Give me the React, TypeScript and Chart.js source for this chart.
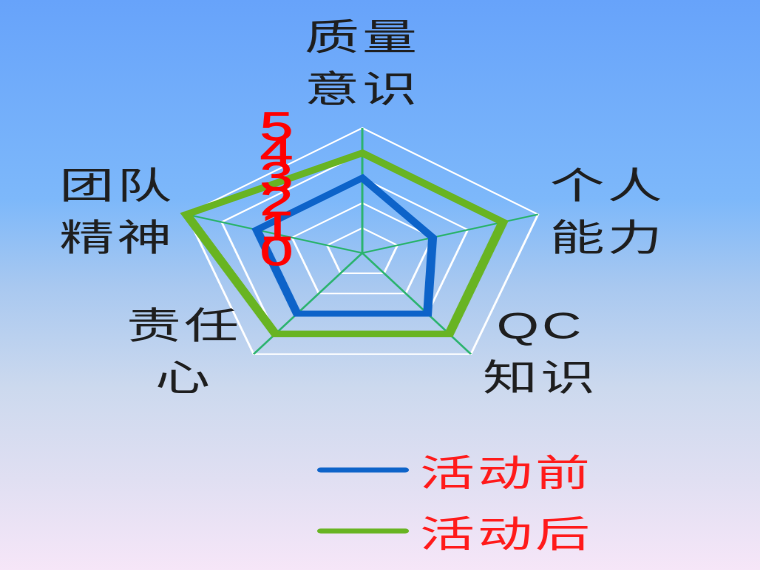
import { useEffect, useRef } from 'react';
import { Chart, registerables } from 'chart.js';

Chart.register(...registerables);

// axis categories, split over two lines as in the slide
const categories = [
  ['质量', '意识'],
  ['个人', '能力'],
  ['QC', '知识'],
  ['责任', '心'],
  ['团队', '精神'],
];
const seriesNames = ['活动前', '活动后'];
const beforeValues = [3, 2, 3, 3, 3];
const afterValues = [4, 4, 4, 4, 5];
const tickValues = [0, 1, 2, 3, 4, 5];

const colors = {
  before: '#0d63c9',
  after: '#68b422',
  spoke: '#2bb36e',
  grid: '#ffffff',
  tick: '#ff0000',
  label: '#1e1e1e',
  legendText: '#ff1a1a',
};

// the original picture is stretched sideways, so the canvas is drawn narrow and widened by css
const CANVAS_W = 514;
const CANVAS_H = 570;

const radarText = {
  id: 'radarText',
  afterDatasetsDraw(chart: any) {
    const scale = chart.scales.r;
    const ctx = chart.ctx as CanvasRenderingContext2D;
    ctx.save();

    // axis labels
    ctx.font = '37px "Liberation Sans", "Noto Sans CJK SC", sans-serif';
    (ctx as any).letterSpacing = '2px';
    ctx.fillStyle = colors.label;
    ctx.textAlign = 'center';
    ctx.textBaseline = 'middle';
    const lineH = 52;
    const gap = 8;
    (chart.data.labels as string[][]).forEach((lines, i) => {
      const p = scale.getPointPosition(i, scale.drawingArea);
      const blockW = Math.max(...lines.map((l) => ctx.measureText(l).width));
      const blockH = lineH * lines.length;
      let cx = p.x;
      let top = p.y - blockH / 2;
      if (Math.abs(p.x - scale.xCenter) < 1) {
        top = p.y - 10 - blockH;
      } else if (p.x > scale.xCenter) {
        cx = p.x + gap + blockW / 2;
      } else {
        cx = p.x - gap - blockW / 2;
      }
      lines.forEach((line, j) => {
        ctx.fillText(line, cx, top + lineH * (j + 0.5));
      });
    });

    // scale numbers, drawn over the series lines
    (ctx as any).letterSpacing = '0px';
    ctx.font = '40px "Liberation Sans", Arial, sans-serif';
    ctx.fillStyle = colors.tick;
    ctx.strokeStyle = colors.tick;
    ctx.lineWidth = 0.8;
    tickValues.forEach((v) => {
      const d = scale.getDistanceFromCenterForValue(v);
      ctx.fillText(String(v), scale.xCenter - 58, scale.yCenter - d + 1);
      ctx.strokeText(String(v), scale.xCenter - 58, scale.yCenter - d + 1);
    });

    ctx.restore();
  },
};

const lineLegend = {
  id: 'lineLegend',
  afterDraw(chart: any) {
    const ctx = chart.ctx as CanvasRenderingContext2D;
    ctx.save();
    ctx.font = '37px "Noto Sans CJK SC", sans-serif';
    (ctx as any).letterSpacing = '2px';
    ctx.textAlign = 'left';
    ctx.textBaseline = 'middle';
    chart.data.datasets.forEach((ds: any, i: number) => {
      const y = 470 + i * 61;
      ctx.strokeStyle = ds.borderColor;
      ctx.lineWidth = 5;
      ctx.lineCap = 'round';
      ctx.beginPath();
      ctx.moveTo(217, y);
      ctx.lineTo(274, y);
      ctx.stroke();
      ctx.fillStyle = colors.legendText;
      ctx.fillText(ds.label, 284, y + 2);
    });
    ctx.restore();
  },
};

const App = () => {
  const chartRef = useRef<HTMLCanvasElement | null>(null);
  const chartInstance = useRef<Chart | null>(null);

  useEffect(() => {
    if (!chartRef.current) return;
    if (chartInstance.current) chartInstance.current.destroy();

    chartInstance.current = new Chart(chartRef.current, {
      type: 'radar',
      data: {
        labels: categories,
        datasets: [
          {
            label: seriesNames[0],
            data: beforeValues,
            borderColor: colors.before,
            borderWidth: 6,
            borderJoinStyle: 'miter',
            fill: false,
            pointRadius: 0,
          },
          {
            label: seriesNames[1],
            data: afterValues,
            borderColor: colors.after,
            borderWidth: 6.5,
            borderJoinStyle: 'miter',
            fill: false,
            pointRadius: 0,
          },
        ],
      },
      options: {
        responsive: false,
        animation: false,
        devicePixelRatio: 2,
        layout: { padding: { left: 120, right: 144, top: 128, bottom: 192 } },
        plugins: {
          legend: { display: false },
          tooltip: { enabled: false },
        },
        scales: {
          r: {
            min: tickValues[0],
            max: tickValues[tickValues.length - 1],
            ticks: { stepSize: 1, display: false },
            pointLabels: { display: false },
            grid: { color: colors.grid, lineWidth: 1.5 },
            angleLines: { color: colors.spoke, lineWidth: 1.5 },
          },
        },
      },
      plugins: [radarText, lineLegend],
    });

    return () => {
      if (chartInstance.current) {
        chartInstance.current.destroy();
        chartInstance.current = null;
      }
    };
  }, []);

  return (
    <div
      style={{
        position: 'fixed',
        left: 0,
        top: 0,
        width: 760,
        height: 570,
        background:
          'linear-gradient(to bottom, #67a3fa 0%, #7db8fa 35%, #a8c8f0 50%, #ccd9ee 68%, #e0dff2 84%, #f6e6f8 100%)',
      }}
    >
      <canvas
        ref={chartRef}
        width={CANVAS_W}
        height={CANVAS_H}
        style={{ width: '760px', height: '570px', display: 'block' }}
      ></canvas>
    </div>
  );
};

export default App;
